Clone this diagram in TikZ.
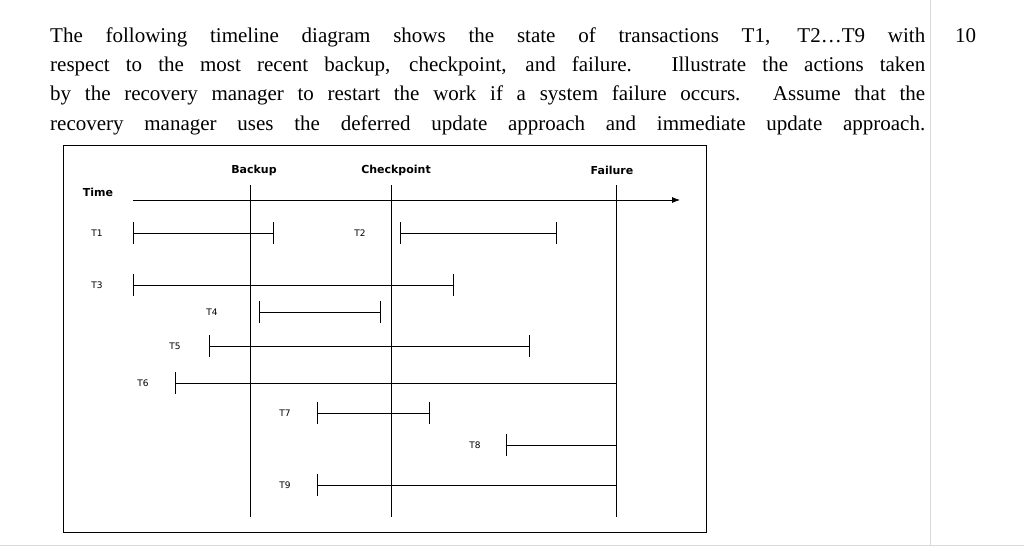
\documentclass[tikz,border=0pt]{standalone}
\usepackage{fontspec}
\setmainfont{Liberation Serif}
\newfontfamily\diag{DejaVu Sans}
\usetikzlibrary{arrows.meta}
\begin{document}
\begin{tikzpicture}[x=1pt,y=-1pt,
  ln/.style={anchor=base west,inner sep=0,font=\fontsize{21}{21}\selectfont},
  hdr/.style={font=\diag\bfseries\fontsize{11}{11}\selectfont,inner sep=0},
  tl/.style={font=\diag\fontsize{9}{9}\selectfont,inner sep=0},
  bar/.style={line width=0.8pt},
  tick/.style={line width=0.8pt}]
\useasboundingbox (0,0) rectangle (1024,559);
\fill[white] (0,0) rectangle (1024,559);
\draw[gray!30] (930,0) -- (930,545);
\draw[gray!30] (0,545) -- (1024,545);
\node[ln] (l1) at (50,43) {\makebox[875pt][s]{The following timeline diagram shows the state of transactions T1, T2\ldots T9 with}};
\node[ln] (l2) at (50,72) {\makebox[875pt][s]{respect to the most recent backup, checkpoint, and failure. Illustrate the actions taken}};
\node[ln] (l3) at (50,101) {\makebox[875pt][s]{by the recovery manager to restart the work if a system failure occurs. Assume that the}};
\node[ln] (l4) at (50,130) {\makebox[875pt][s]{recovery manager uses the deferred update approach and immediate update approach.}};
\node[ln] (mk) at (955,43) {10};
\draw[line width=0.8pt] (63,145) rectangle (706,532);
\node[hdr] (time) at (98,192) {Time};
\node[hdr] (bk) at (254,170) {Backup};
\node[hdr] (ck) at (396,170) {Checkpoint};
\node[hdr] (fl) at (612,170) {Failure};
\coordinate (a0) at (133,200); \coordinate (a1) at (680,200);
\draw[bar,-{Latex[length=8pt,width=6pt]}] (a0) -- (a1);
\foreach \x/\n in {250/b,391/c,616/f}{
  \coordinate (\n0) at (\x,185); \coordinate (\n1) at (\x,517);
  \draw[bar] (\n0) -- (\n1);}
% transactions: name, label x, y, start, end, endtick
\foreach \n/\lx/\y/\s/\e/\et in {T1/97/233/133/273/1,T2/360/233/400/556/1,T3/97/285/133/453/1,T4/212/312/259/380/1,T5/175/346/209/529/1,T6/143/383/175/616/0,T7/285/413/317/429/1,T8/475/445/506/616/0,T9/285/485/317/616/0}{
  \node[tl] (\n) at (\lx,\y) {\n};
  \coordinate (\n s) at (\s,\y); \coordinate (\n e) at (\e,\y);
  \draw[bar] (\n s) -- (\n e);
  \draw[tick] (\s,\y-11) -- (\s,\y+11);
  \ifnum\et=1 \draw[tick] (\e,\y-11) -- (\e,\y+11); \fi
}
\end{tikzpicture}
\end{document}
